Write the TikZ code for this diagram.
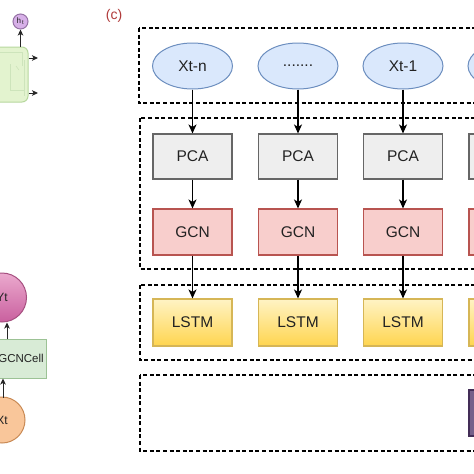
\documentclass[tikz,border=0pt]{standalone}
\usepackage{fontspec}
\setmainfont{Liberation Sans}
\usetikzlibrary{arrows.meta,shapes.geometric}
\definecolor{ellF}{HTML}{DAE8FC}
\definecolor{ellD}{HTML}{6C8EBF}
\definecolor{pcaF}{HTML}{EEEEEE}
\definecolor{pcaD}{HTML}{666666}
\definecolor{gcnF}{HTML}{F8CECC}
\definecolor{gcnD}{HTML}{B85450}
\definecolor{lstmT}{HTML}{FFF3C4}
\definecolor{lstmB}{HTML}{FFD54F}
\definecolor{lstmD}{HTML}{D6B656}
\definecolor{purF}{HTML}{76608A}
\definecolor{purD}{HTML}{432D57}
\definecolor{cellF}{HTML}{E3F3CF}
\definecolor{cellD}{HTML}{B7D89E}
\definecolor{hF}{HTML}{D7B0E8}
\definecolor{hD}{HTML}{9673A6}
\definecolor{gcF}{HTML}{D8EBD6}
\definecolor{gcD}{HTML}{9CC295}
\definecolor{yT}{HTML}{EBA9CE}
\definecolor{yB}{HTML}{C9609E}
\definecolor{yD}{HTML}{A65080}
\definecolor{xF}{HTML}{F9C69A}
\definecolor{xD}{HTML}{C98A55}
\definecolor{labc}{HTML}{B03A3A}
\definecolor{txt}{HTML}{222222}
\tikzset{
  dbox/.style={draw=black, dash pattern=on 4pt off 2.6pt, line width=1.1pt},
  ellnode/.style={ellipse, draw=ellD, fill=ellF, line width=1pt, minimum width=80pt, minimum height=46pt, inner sep=0pt, font=\fontsize{15.5}{18}\selectfont, text=txt},
  pcanode/.style={rectangle, draw=pcaD, fill=pcaF, line width=1.1pt, minimum width=79pt, minimum height=45pt, inner sep=0pt, font=\fontsize{15.5}{18}\selectfont, text=txt},
  gcnnode/.style={rectangle, draw=gcnD, fill=gcnF, line width=1.1pt, minimum width=79pt, minimum height=46pt, inner sep=0pt, font=\fontsize{15.5}{18}\selectfont, text=txt},
  lstmnode/.style={rectangle, draw=lstmD, top color=lstmT, bottom color=lstmB, line width=1.1pt, minimum width=79pt, minimum height=47pt, inner sep=0pt, font=\fontsize{15.5}{18}\selectfont, text=txt},
  arr/.style={-{Stealth[length=9pt,width=8pt,inset=2.5pt]}, line width=1.3pt, black},
  arrs/.style={-{Stealth[length=6pt,width=5.5pt,inset=1.5pt]}, line width=1pt, black!85},
  faint/.style={draw=cellD!70, line width=0.6pt},
}
\begin{document}
\begin{tikzpicture}[x=1pt,y=-1pt]
\useasboundingbox (0,0) rectangle (474,474);
\clip (0,0) rectangle (474,474);
\fill[white] (0,0) rectangle (474,474);

% ---- left panel fragments ----
\node (cell) [rectangle, rounded corners=6pt, draw=cellD, fill=cellF, line width=1pt, minimum width=60pt, minimum height=55pt] at (-2,74.5) {};
\draw[faint] (10,64) -- (10,90) -- (24,90);
\draw[faint] (0,52) -- (22,52) -- (22,66);
\draw[faint] (24,60) -- (24,96);
\draw[faint] (16,66) -- (19,70);
\node (h) [circle, draw=hD, fill=hF, line width=1pt, minimum size=15pt, inner sep=0pt, font=\fontsize{8}{9}\selectfont, text=txt] at (20.5,21.5) {h\textsubscript{\,t}};
\coordinate (hb) at (20.5,47);
\draw[arrs] (hb) -- (h.south);
\coordinate (o1) at (38,58);
\coordinate (o2) at (38,93);
\draw[arrs] (cell.east |- o1) -- (o1);
\draw[arrs] (cell.east |- o2) -- (o2);

\node (Y) [circle, draw=yD, top color=yT, bottom color=yB, line width=1pt, minimum size=49pt, inner sep=0pt, font=\fontsize{12}{14}\selectfont, text=txt] at (2,297.5) {Yt};
\node (gcnc) [rectangle, draw=gcD, fill=gcF, line width=1pt, minimum width=50pt, minimum height=39pt, inner sep=0pt, font=\fontsize{11.5}{13}\selectfont, text=txt] at (21,358.5) {GCNCell};
\node (X) [circle, draw=xD, fill=xF, line width=1pt, minimum size=46pt, inner sep=0pt, font=\fontsize{12}{14}\selectfont, text=txt] at (2,420) {Xt};
\coordinate (ya) at (7,339);
\draw[arrs] (ya) -- (ya |- Y.south);
\coordinate (xa) at (3,397.5);
\draw[arrs] (xa) -- (xa |- gcnc.south);

% ---- panel (c) ----
\node (lab) [font=\fontsize{14}{16}\selectfont, text=labc] at (114,16) {(c)};

\draw[dbox] (139,28) rectangle (490,103);
\draw[dbox] (140,118) rectangle (490,269);
\draw[dbox] (140,285) rectangle (490,360);
\draw[dbox] (140,375) rectangle (490,451);

\node (e1) [ellnode] at (192.5,66) {Xt-n};
\node (e2) [ellnode] at (298,66) {.......};
\node (e3) [ellnode] at (403,66) {Xt-1};
\node (e4) [ellnode] at (508,66) {Xt};

\node (p1) [pcanode] at (192.5,156.5) {PCA};
\node (p2) [pcanode] at (298,156.5) {PCA};
\node (p3) [pcanode] at (403,156.5) {PCA};
\node (p4) [pcanode] at (508.5,156.5) {PCA};

\node (g1) [gcnnode] at (192.5,232) {GCN};
\node (g2) [gcnnode] at (298,232) {GCN};
\node (g3) [gcnnode] at (403,232) {GCN};
\node (g4) [gcnnode] at (508.5,232) {GCN};

\node (l1) [lstmnode] at (192.5,322.5) {LSTM};
\node (l2) [lstmnode] at (298,322.5) {LSTM};
\node (l3) [lstmnode] at (403,322.5) {LSTM};
\node (l4) [lstmnode] at (508.5,322.5) {LSTM};

\node (out) [rectangle, draw=purD, fill=purF, line width=1.1pt, minimum width=79pt, minimum height=46pt] at (508.5,413) {};

\foreach \i in {1,2,3}{
  \draw[arr] (e\i.south) -- (p\i.north);
  \draw[arr] (p\i.south) -- (g\i.north);
  \draw[arr] (g\i.south) -- (l\i.north);
}
\end{tikzpicture}
\end{document}
